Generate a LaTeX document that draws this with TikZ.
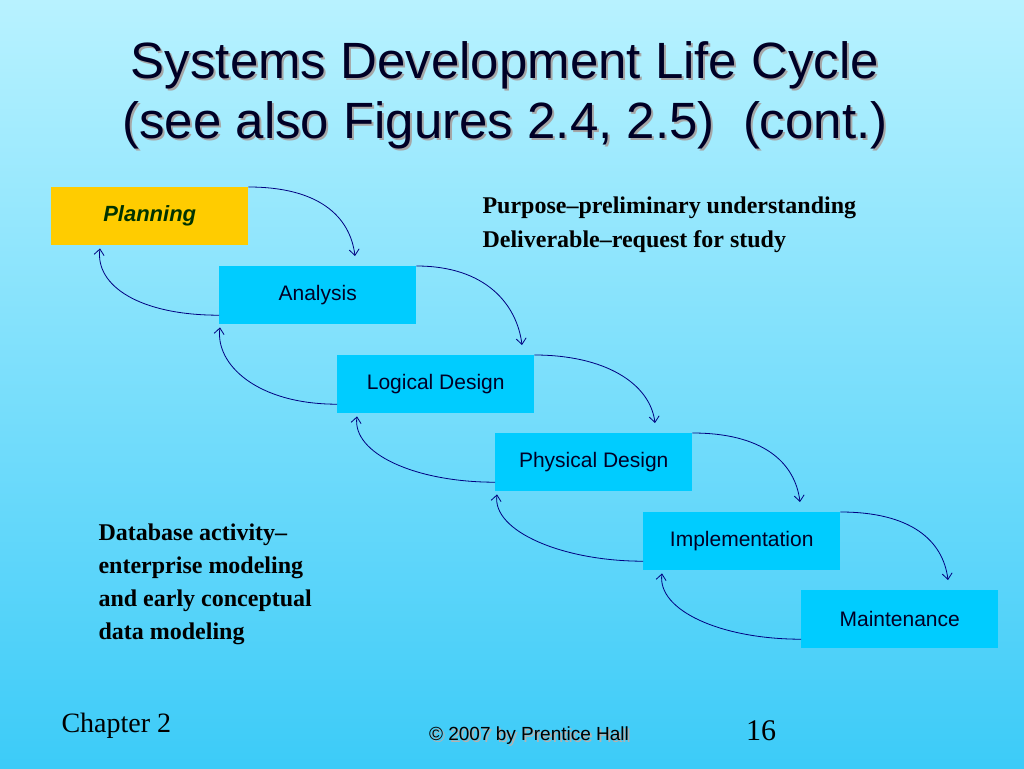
\documentclass[tikz,border=0pt]{standalone}
\usepackage{fontspec}
\setmainfont{Liberation Serif}
\setsansfont{Liberation Sans}
\usetikzlibrary{arrows.meta,calc}
\definecolor{boxc}{HTML}{00CCFF}
\definecolor{plan}{HTML}{FFCC00}
\definecolor{navy}{HTML}{000080}
\definecolor{bgtop}{HTML}{B8F2FF}
\definecolor{bgbot}{HTML}{3CCBF8}
\tikzset{
 stage/.style={fill=boxc,draw=none,minimum width=197pt,minimum height=58pt,inner sep=0pt,font=\sffamily\fontsize{21}{22}\selectfont,text=black!85!blue},
 conn/.style={draw=navy,line width=0.8pt,-{Straight Barb[length=6pt,width=10pt]}},
}
\begin{document}
\begin{tikzpicture}[x=1pt,y=-1pt]
\shade[top color=bgtop,bottom color=bgbot] (0,0) rectangle (1024,768);
\useasboundingbox (0,0) rectangle (1024,768);
% title
\foreach \c/\d in {gray!70/2, black!85!blue/0}{
 \node[text=\c,font=\sffamily\fontsize{51}{60}\selectfont,align=center] (t\d) at (505+\d,95+\d) {Systems Development Life Cycle\\(see also Figures 2.4, 2.5)\ \ (cont.)};
}
\node[stage,fill=plan,anchor=north west,font=\sffamily\bfseries\itshape\fontsize{22}{22}\selectfont,text=black!80!green] (p) at (51,187) {Planning};
\node[stage,anchor=north west] (a) at (219,266) {Analysis};
\node[stage,anchor=north west] (l) at (337,355) {Logical Design};
\node[stage,anchor=north west] (ph) at (495,433) {Physical Design};
\node[stage,anchor=north west] (im) at (643,512) {Implementation};
\node[stage,anchor=north west] (m) at (801,590) {Maintenance};
% arrows
\foreach \u/\v/\f/\b in {p/a/136/49,a/l/185/1,l/ph/160/20,ph/im/157/2,im/m/147/19}{
 \draw[conn] (\u.north east) .. controls ($(\u.north east)+(70,0)$) and ($(\v.north west)+(\f-5,-50)$) .. ($(\v.north west)+(\f,-10)$);
 \draw[conn] ($(\v.west)+(0,20)$) .. controls ($(\v.west)+(-80,20)$) and ($(\u.south west)+(\b-5,40)$) .. ($(\u.south west)+(\b,3)$);
}
\node[anchor=north west,align=left,font=\bfseries\fontsize{24}{34}\selectfont] (pu) at (479,193) {Purpose–preliminary understanding\\Deliverable–request for study};
\node[anchor=north west,align=left,font=\bfseries\fontsize{24}{33}\selectfont] (db) at (95,520) {Database activity–\\enterprise modeling\\and early conceptual\\data modeling};
\node[anchor=west,font=\fontsize{28}{30}\selectfont] (ch) at (58,726) {Chapter 2};
\node[font=\fontsize{30}{32}\selectfont] (pg) at (761,731) {16};
\node[text=gray!60,font=\sffamily\fontsize{19}{20}\selectfont] (cp2) at (531,738) {© 2007 by Prentice Hall};
\node[font=\sffamily\fontsize{19}{20}\selectfont] (cp) at (529,736) {© 2007 by Prentice Hall};
\end{tikzpicture}
\end{document}
